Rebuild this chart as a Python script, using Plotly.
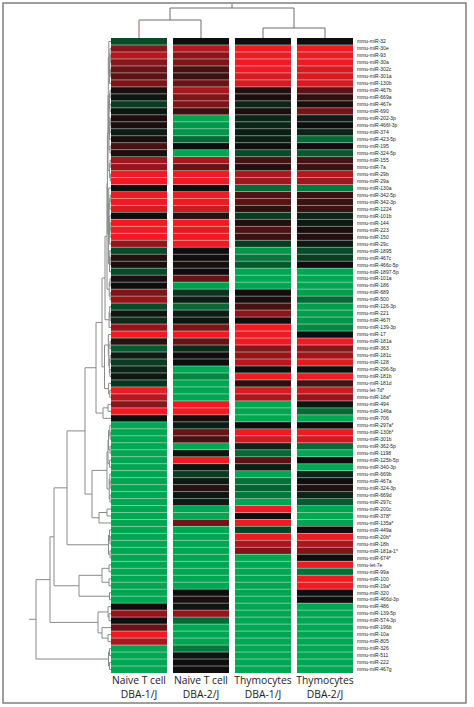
import plotly.graph_objects as go

W = 474
H = 707

row_labels = [
    "mmu-miR-32", "mmu-miR-30e", "mmu-miR-93", "mmu-miR-30a", "mmu-miR-302c", "mmu-miR-301a", "mmu-miR-130b",
    "mmu-miR-467b", "mmu-miR-669a", "mmu-miR-467e", "mmu-miR-690", "mmu-miR-202-3p", "mmu-miR-466f-3p",
    "mmu-miR-374", "mmu-miR-423-5p", "mmu-miR-195", "mmu-miR-324-5p", "mmu-miR-155", "mmu-miR-7a", "mmu-miR-29b",
    "mmu-miR-29a", "mmu-miR-130a", "mmu-miR-342-5p", "mmu-miR-342-3p", "mmu-miR-1224", "mmu-miR-101b",
    "mmu-miR-144", "mmu-miR-223", "mmu-miR-150", "mmu-miR-29c", "mmu-miR-1895", "mmu-miR-467c", "mmu-miR-466c-5p",
    "mmu-miR-1897-5p", "mmu-miR-101a", "mmu-miR-186", "mmu-miR-689", "mmu-miR-500", "mmu-miR-126-3p", "mmu-miR-221",
    "mmu-miR-467f", "mmu-miR-139-3p", "mmu-miR-17", "mmu-miR-181a", "mmu-miR-363", "mmu-miR-181c", "mmu-miR-128",
    "mmu-miR-296-5p", "mmu-miR-181b", "mmu-miR-181d", "mmu-let-7d*", "mmu-miR-18a*", "mmu-miR-494", "mmu-miR-146a",
    "mmu-miR-706", "mmu-miR-297a*", "mmu-miR-130b*", "mmu-miR-301b", "mmu-miR-362-5p", "mmu-miR-1198",
    "mmu-miR-125b-5p", "mmu-miR-340-3p", "mmu-miR-669b", "mmu-miR-467a", "mmu-miR-324-3p", "mmu-miR-669d",
    "mmu-miR-297c", "mmu-miR-200c", "mmu-miR-378*", "mmu-miR-135a*", "mmu-miR-449a", "mmu-miR-20b*", "mmu-miR-18b",
    "mmu-miR-181a-1*", "mmu-miR-674*", "mmu-let-7e", "mmu-miR-99a", "mmu-miR-100", "mmu-miR-19a*", "mmu-miR-320",
    "mmu-miR-466d-3p", "mmu-miR-486", "mmu-miR-139-5p", "mmu-miR-574-3p", "mmu-miR-196b", "mmu-miR-10a",
    "mmu-miR-805", "mmu-miR-326", "mmu-miR-511", "mmu-miR-222", "mmu-miR-467g",
]
column_labels = ["Naive T cell<br>DBA-1/J", "Naive T cell<br>DBA-2/J", "Thymocytes<br>DBA-1/J", "Thymocytes<br>DBA-2/J"]

naive_dba1 = [
    -.4, .55, .75, .55, .4, .35, .5, .05, -.05, -.3,
    -.05, .05, .05, -.1, .05, .25, .05, .65, .6, 1,
    1, 0, 1, 1, .9, 0, 1, 1, 1, .6,
    -.4, .1, .05, -.4, .05, 0, .5, .6, -.4, -.05,
    -.2, .6, 1, .12, -.5, -.1, -.3, -.15, -.05, -.25,
    1, .75, .55, 1, 0, -1, -1, -1, -1, -1,
    -1, -1, -1, -1, -1, -1, -1, -1, -1, -1,
    -1, -1, -1, -1, -1, -1, -1, -1, -1, -1,
    -1, 0, .6, 0, .4, 1, .7, -1, -1, -1,
    -1,
]
naive_dba2 = [
    0, .75, .55, .5, .25, .2, .4, .7, .5, .5,
    .2, -1, -.9, -.9, -.6, 0, -1, .7, .4, 1,
    1, 0, 1, 1, .85, .12, 1, .95, 1, 1,
    0, 0, .05, 0, .4, -.95, -.25, -.1, -.6, -.1,
    -.05, .5, 1, .4, -.2, 0, 0, -1, -.8, -1,
    -1, -1, 1, 1, .03, -.1, .4, .25, -1, -.05,
    1, -.03, -.3, -.08, .12, -.05, -.1, -1, -1, .45,
    -1, -1, -1, -1, -1, -1, -1, -1, -1, 0,
    .05, -.05, .6, -.6, -1, -1, -1, -.7, -.05, 0,
    0,
]
thymo_dba1 = [
    0, 1, 1, 1, 1, .9, .9, .1, .05, -.15,
    .05, -.15, -.15, -.1, -.12, 0, -.4, .25, .1, .7,
    .65, -.6, .3, .35, .15, -.3, .1, .3, .2, -.3,
    -.9, -.7, -.5, -1, -1, -1, 0, .05, .25, .55,
    0, 1, 1, 1, .55, .6, .75, 0, 1, .15,
    .9, .7, -1, -1, -1, 0, 1, .85, -.15, -.6,
    .35, -.1, -1, -.65, -.55, -.7, -1, 1, 0, 1,
    -.35, 1, .7, .5, -1, -1, -1, -1, -1, -1,
    -1, -1, -1, -1, -1, -1, -1, -1, -1, -1,
    -1,
]
thymo_dba2 = [
    0, 1, 1, 1, .9, .9, .9, .35, .15, .05,
    .45, -.1, 0, -.15, -.6, 0, -.5, .25, .2, .75,
    .65, -.7, .2, .2, .2, -.15, -.08, .05, .1, -.08,
    -.4, -.3, 0, -1, -1, -1, -.95, -.6, -.95, -.95,
    -.9, -.8, 0, 1, .55, .65, .95, 0, 1, .25,
    .85, .6, -.05, -.6, -1, 0, 1, .85, -.6, -1,
    0, -1, -.15, 0, .08, -.15, -.5, -1, -1, -1,
    0, 1, .7, .5, 0, 1, -.65, 1, 1, 0,
    0, -1, -1, -1, -1, -1, -1, -1, -1, -1,
    -1,
]

# height at which neighbouring leaves join, one value per gap between rows / columns
row_join_depth = [
    2.2, 1.0, 0.8, 1.2, 0.7, 1.5, 2.7, 1.0, 1.6, 1.1,
    1.9, 0.7, 1.1, 1.4, 2.0, 1.0, 3.0, 0.9, 1.6, 0.7,
    3.6, 2.3, 0.8, 1.2, 2.0, 1.3, 0.9, 1.1, 1.7, 2.6,
    1.2, 0.8, 1.5, 4.0, 1.0, 1.8, 0.9, 6.0, 1.3, 0.8,
    1.9, 9.0, 2.7, 1.0, 2.2, 0.9, 1.6, 1.1, 6.5, 2.4,
    1.2, 15, 3, 8, 26, 1.2, 0.8, 2.5, 1.0, 3.0,
    1.6, 4.0, 1.2, 0.9, 1.8, 1.1, 19, 4, 12, 44,
    1.5, 1.0, 2.5, 1.0, 57, 2, 9, 2, 32, 1.5,
    61, 3, 2, 13, 9, 3, 75, 1.5, 2.5, 1.5,
]
row_root_stub = 82
column_join_height = [18, 30, 10]
column_root_stub = 34


def elbows(joins, first, last, xs, ys):
    # splits first..last at its biggest gap, returns (leaf position, height) of the node
    if first == last:
        return first, 0
    split = max(range(first, last), key=lambda i: joins[i])
    depth = joins[split]
    pos_a, h_a = elbows(joins, first, split, xs, ys)
    pos_b, h_b = elbows(joins, split + 1, last, xs, ys)
    xs.extend([pos_a, pos_a, pos_b, pos_b, None])
    ys.extend([h_a, depth, depth, h_b, None])
    return (pos_a + pos_b) / 2, depth


rows = list(range(len(row_labels)))
columns = list(range(len(column_labels)))
z = [list(v) for v in zip(naive_dba1, naive_dba2, thymo_dba1, thymo_dba2)]

fig = go.Figure()
fig.add_trace(go.Heatmap(
    z=z, x=columns, y=rows, zmin=-1, zmax=1, xgap=6, showscale=False,
    colorscale=[[0, "#00a651"], [0.5, "#0e0e0e"], [1, "#ed1c24"]],
))

# pale lines between rows, the gaps in the original are washed out rather than pure white
sep_x, sep_y = [], []
for r in rows[:-1]:
    sep_x.extend([columns[0] - 0.5, columns[-1] + 0.5, None])
    sep_y.extend([r + 0.5, r + 0.5, None])
fig.add_trace(go.Scatter(x=sep_x, y=sep_y, mode="lines", line=dict(color="rgba(255,255,255,0.45)", width=1),
                         hoverinfo="skip"))

row_pos, row_h = [], []
top_pos, top_h = elbows(row_join_depth, 0, len(rows) - 1, row_pos, row_h)
row_pos.extend([top_pos, top_pos, None])
row_h.extend([top_h, row_root_stub, None])
fig.add_trace(go.Scatter(x=row_h, y=row_pos, xaxis="x2", yaxis="y", mode="lines",
                         line=dict(color="#8a8a8a", width=1), hoverinfo="skip"))

col_pos, col_h = [], []
top_pos, top_h = elbows(column_join_height, 0, 3, col_pos, col_h)
col_pos.extend([top_pos, top_pos, None])
col_h.extend([top_h, column_root_stub, None])
fig.add_trace(go.Scatter(x=col_pos, y=col_h, xaxis="x", yaxis="y2", mode="lines",
                         line=dict(color="#6f6a6a", width=1), hoverinfo="skip"))
fig.add_trace(go.Scatter(x=[0, 0], y=[0, column_join_height[0]], xaxis="x", yaxis="y2", mode="lines",
                         line=dict(color="#eba6a6", width=1), hoverinfo="skip"))

fig.update_layout(
    width=W, height=H, margin=dict(l=0, r=0, t=0, b=0), showlegend=False,
    paper_bgcolor="white", plot_bgcolor="white",
    xaxis=dict(domain=[108 / W, 356 / W], range=[-0.5, 3.5], anchor="y", tickmode="array", tickvals=columns,
               ticktext=column_labels, ticks="", tickangle=0, showgrid=False, zeroline=False, showline=False,
               tickfont=dict(family="Open Sans", size=10.3, color="#222222")),
    yaxis=dict(domain=[1 - 673 / H, 1 - 38 / H], range=[len(rows) - 0.5, -0.5], anchor="x", side="right",
               tickmode="array", tickvals=rows, ticktext=row_labels, ticks="", showgrid=False, zeroline=False,
               tickfont=dict(family="Liberation Sans", size=5, color="#222222")),
    xaxis2=dict(domain=[0, 111 / W], range=[111, 0], anchor="y", visible=False),
    yaxis2=dict(domain=[1 - 38 / H, 1], range=[0, 38], anchor="x", visible=False),
    shapes=[dict(type="rect", xref="paper", yref="paper", x0=3 / W, x1=466 / W, y0=1 - 703 / H, y1=1 - 3 / H,
                 line=dict(color="#808080", width=1.5))],
)

fig.write_html("out.html", config=dict(displayModeBar=False), post_script="document.body.style.margin = '0';")
